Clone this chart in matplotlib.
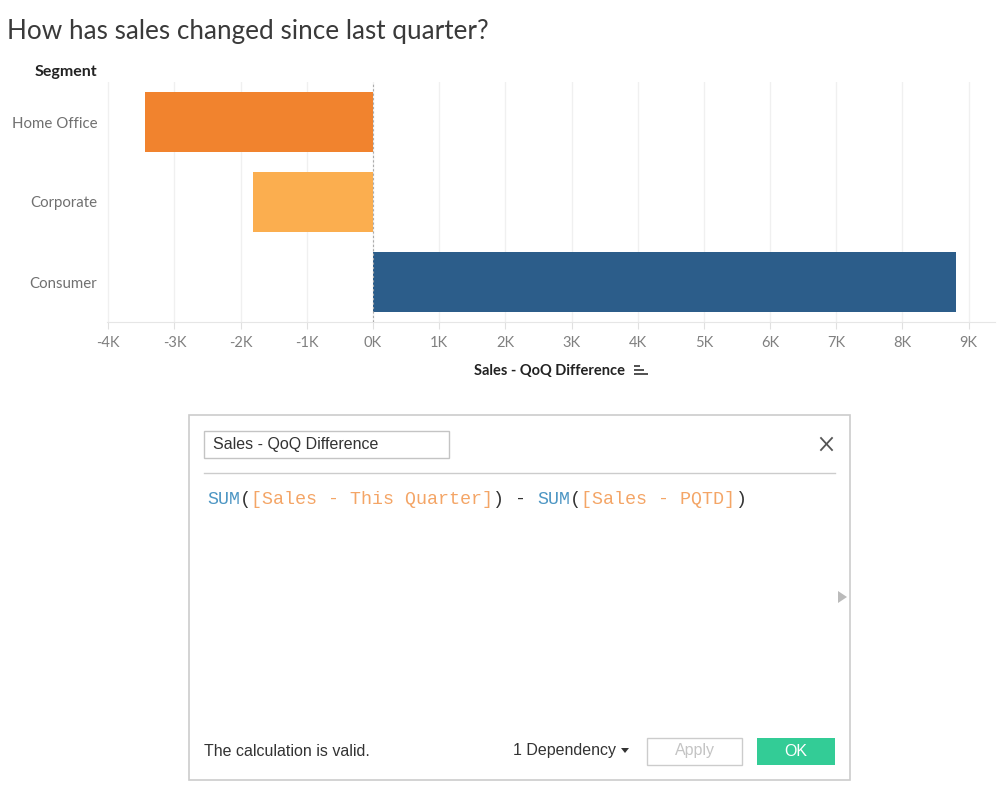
import matplotlib
matplotlib.use("Agg")
import matplotlib.pyplot as plt
from matplotlib.patches import Rectangle, Polygon
from matplotlib.ticker import FuncFormatter, MultipleLocator

# data
segments = ["Consumer", "Corporate", "Home Office"]
qoq_diff = [8810, -1810, -3440]
bar_colors = ["#2c5d8a", "#fbae4f", "#f1832e"]

title = "How has sales changed since last quarter?"
x_label = "Sales - QoQ Difference"
calc_name = "Sales - QoQ Difference"
formula_parts = [
    ("SUM", "#4e97c4"),
    ("(", "#333333"),
    ("[Sales - This Quarter]", "#f4a566"),
    (") - ", "#333333"),
    ("SUM", "#4e97c4"),
    ("(", "#333333"),
    ("[Sales - PQTD]", "#f4a566"),
    (")", "#333333"),
]

W, H = 1000, 808
fig = plt.figure(figsize=(W / 100, H / 100), dpi=100)
fig.patch.set_facecolor("white")


def px_axes(left, top, right, bottom):
    return [left / W, 1 - bottom / H, (right - left) / W, (bottom - top) / H]


# ---- bar chart ----
ax = fig.add_axes(px_axes(107, 82, 995, 322))
ypos = list(range(len(segments)))
ax.barh(ypos, qoq_diff, height=0.75, color=bar_colors, edgecolor="none", zorder=3)
ax.set_ylim(-0.5, len(segments) - 0.5)
ax.set_xlim(-4020, 9400)
ax.set_yticks(ypos)
ax.set_yticklabels(segments, fontsize=10.8, color="#707070", family="Lato")
ax.tick_params(axis="y", length=0, pad=7)
ax.xaxis.set_major_locator(MultipleLocator(1000))
ax.xaxis.set_major_formatter(FuncFormatter(lambda v, p: f"{int(round(v / 1000))}K"))
ax.tick_params(axis="x", length=5, color="#e0e0e0", labelsize=10.5, labelcolor="#808080", pad=5)
for lab in ax.get_xticklabels():
    lab.set_family("Lato")
ax.grid(axis="x", color="#f0f0f0", linewidth=1, zorder=0)
ax.axvline(0, color="#aaaaaa", linestyle=(0, (2, 2)), linewidth=0.8, zorder=4)
for s in ["top", "right", "left"]:
    ax.spines[s].set_visible(False)
ax.spines["bottom"].set_color("#e6e6e6")

# ---- overlay for text and dialog ----
ui = fig.add_axes([0, 0, 1, 1])
ui.set_xlim(0, W)
ui.set_ylim(H, 0)
ui.axis("off")
ui.patch.set_alpha(0)

ui.text(7, 32, title, fontsize=18.8, color="#3a3a3a", family="Lato", va="center", ha="left")
ui.text(97, 72, "Segment", fontsize=11.5, color="#222222", family="Lato", weight="bold",
        va="center", ha="right")
ui.text(550, 371, x_label, fontsize=10.5, color="#222222", family="Lato", weight="bold",
        va="center", ha="center")
# sort icon
for i, w in enumerate([6, 10, 14]):
    ui.add_patch(Rectangle((634, 365 + i * 4), w, 1.6, color="#555555", lw=0))

# dialog
ui.add_patch(Rectangle((189, 415), 661, 365, facecolor="white", edgecolor="#cccccc", lw=1.2))
ui.add_patch(Rectangle((204, 431), 245, 27, facecolor="white", edgecolor="#c4c4c4", lw=1))
ui.text(213, 445, calc_name, fontsize=11.5, color="#333333", family="Liberation Sans", va="center")
ui.plot([821, 832], [438, 450], color="#555555", lw=1.3)
ui.plot([821, 832], [450, 438], color="#555555", lw=1.3)
ui.plot([204, 835], [473, 473], color="#cccccc", lw=1)

col = 0
for txt, c in formula_parts:
    ui.text(207 + col * 11, 499, txt, fontsize=13.2, color=c, family="Liberation Mono", va="center")
    col += len(txt)

ui.add_patch(Polygon([[838, 591], [838, 603], [847, 597]], closed=True, color="#bbbbbb", lw=0))

ui.text(204, 751, "The calculation is valid.", fontsize=11.5, color="#333333",
        family="Liberation Sans", va="center")
ui.text(513, 751, "1 Dependency", fontsize=11.5, color="#333333", family="Liberation Sans", va="center")
ui.add_patch(Polygon([[621, 748], [629, 748], [625, 753]], closed=True, color="#333333", lw=0))
ui.add_patch(Rectangle((647, 738), 95, 27, facecolor="white", edgecolor="#cccccc", lw=1))
ui.text(694.5, 751, "Apply", fontsize=11.5, color="#c4c4c4", family="Liberation Sans",
        va="center", ha="center")
ui.add_patch(Rectangle((757, 738), 78, 27, facecolor="#33cc96", edgecolor="none"))
ui.text(796, 751, "OK", fontsize=11.5, color="white", family="Liberation Sans",
        va="center", ha="center")

fig.savefig("out.png", dpi=100, facecolor="white")
